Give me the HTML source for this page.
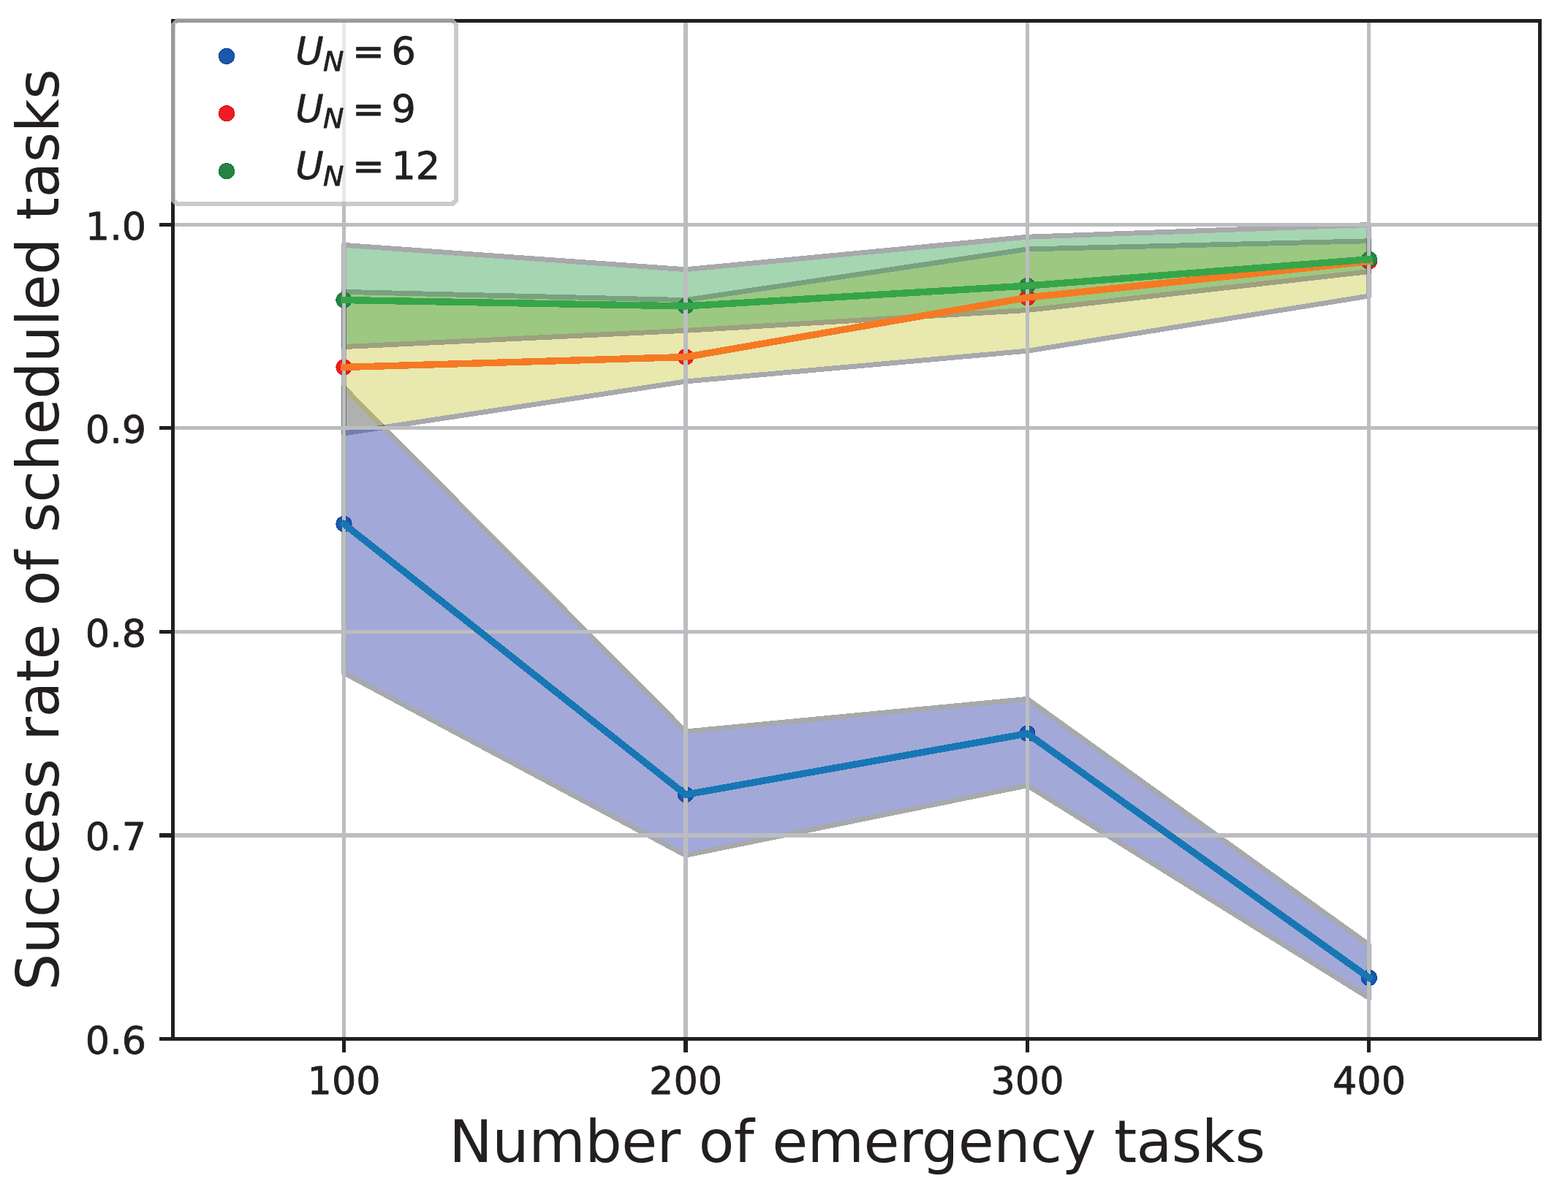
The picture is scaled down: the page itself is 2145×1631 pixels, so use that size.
<!DOCTYPE html>
<html lang="en"><head><meta charset="utf-8"><title>Success rate of scheduled tasks</title>
<style>html,body{margin:0;padding:0;background:#fff;overflow:hidden}svg{display:block}text{font-family:'DejaVu Sans','Liberation Sans',sans-serif;fill:#231f20}.s{stroke:#231f20;stroke-width:.8px;stroke-linejoin:round}</style></head><body>
<svg width="2145" height="1631" viewBox="0 0 2145 1631">
<defs>
<mask id="fb" maskUnits="userSpaceOnUse" x="0" y="0" width="2145" height="1631"><path d="M470.50 530.30 L937.97 1000.96 L1405.44 956.40 L1872.91 1292.83 L1872.91 1365.52 L1405.44 1074.77 L937.97 1170.29 L470.50 920.76 Z" stroke-width="6.9" stroke-linejoin="round" shape-rendering="crispEdges" fill="#fff" stroke="#000"/></mask>
<mask id="sb" maskUnits="userSpaceOnUse" x="0" y="0" width="2145" height="1631"><path d="M470.50 530.30 L937.97 1000.96 L1405.44 956.40 L1872.91 1292.83 L1872.91 1365.52 L1405.44 1074.77 L937.97 1170.29 L470.50 920.76 Z" stroke-width="6.9" stroke-linejoin="round" shape-rendering="crispEdges" fill="none" stroke="#fff"/></mask>
<mask id="fy" maskUnits="userSpaceOnUse" x="0" y="0" width="2145" height="1631"><path d="M470.50 399.40 L937.97 410.55 L1405.44 340.92 L1872.91 329.78 L1872.91 404.98 L1405.44 480.17 L937.97 521.94 L470.50 592.96 Z" stroke-width="6.9" stroke-linejoin="round" shape-rendering="crispEdges" fill="#fff" stroke="#000"/></mask>
<mask id="sy" maskUnits="userSpaceOnUse" x="0" y="0" width="2145" height="1631"><path d="M470.50 399.40 L937.97 410.55 L1405.44 340.92 L1872.91 329.78 L1872.91 404.98 L1405.44 480.17 L937.97 521.94 L470.50 592.96 Z" stroke-width="6.9" stroke-linejoin="round" shape-rendering="crispEdges" fill="none" stroke="#fff"/></mask>
<mask id="fg" maskUnits="userSpaceOnUse" x="0" y="0" width="2145" height="1631"><path d="M470.50 335.35 L937.97 368.77 L1405.44 324.21 L1872.91 307.50 L1872.91 371.56 L1405.44 424.47 L937.97 452.32 L470.50 474.60 Z" stroke-width="6.9" stroke-linejoin="round" shape-rendering="crispEdges" fill="#fff" stroke="#000"/></mask>
<mask id="sg" maskUnits="userSpaceOnUse" x="0" y="0" width="2145" height="1631"><path d="M470.50 335.35 L937.97 368.77 L1405.44 324.21 L1872.91 307.50 L1872.91 371.56 L1405.44 424.47 L937.97 452.32 L470.50 474.60 Z" stroke-width="6.9" stroke-linejoin="round" shape-rendering="crispEdges" fill="none" stroke="#fff"/></mask>
</defs>
<rect width="2145" height="1631" fill="#fff"/>
<g shape-rendering="crispEdges">
<g opacity="0.365"><path d="M470.50 530.30 L937.97 1000.96 L1405.44 956.40 L1872.91 1292.83 L1872.91 1365.52 L1405.44 1074.77 L937.97 1170.29 L470.50 920.76 Z" fill="rgb(2,21,150)" stroke="rgb(16,21,30)" stroke-width="6.9" stroke-linejoin="round"/></g>
<g opacity="0.365"><path d="M470.50 399.40 L937.97 410.55 L1405.44 340.92 L1872.91 329.78 L1872.91 404.98 L1405.44 480.17 L937.97 521.94 L470.50 592.96 Z" fill="rgb(194,194,38)" stroke="rgb(16,21,30)" stroke-width="6.9" stroke-linejoin="round"/></g>
<g opacity="0.365"><path d="M470.50 335.35 L937.97 368.77 L1405.44 324.21 L1872.91 307.50 L1872.91 371.56 L1405.44 424.47 L937.97 452.32 L470.50 474.60 Z" fill="rgb(13,142,43)" stroke="rgb(16,21,30)" stroke-width="6.9" stroke-linejoin="round"/></g>
<g mask="url(#fb)"><rect mask="url(#fy)" x="460" y="500" width="400" height="120" fill="rgb(175,177,175)"/></g>
<g mask="url(#sy)"><rect mask="url(#fb)" x="460" y="500" width="400" height="120" fill="rgb(116,124,180)"/></g>
<g mask="url(#sb)"><rect mask="url(#fy)" x="460" y="500" width="400" height="120" fill="rgb(174,176,128)"/></g>
<g mask="url(#fy)"><rect mask="url(#fg)" x="460" y="300" width="1420" height="200" fill="rgb(156,200,130)"/></g>
<g mask="url(#sy)"><rect mask="url(#fg)" x="460" y="300" width="1420" height="200" fill="rgb(120,161,128)"/></g>
<g mask="url(#sg)"><rect mask="url(#fy)" x="460" y="300" width="1420" height="200" fill="rgb(158,160,127)"/></g>
<circle cx="470.50" cy="716.89" r="10.5" fill="#1b58aa" stroke="#0a46a0" stroke-width="1.2"/>
<circle cx="937.97" cy="1087.30" r="10.5" fill="#1b58aa" stroke="#0a46a0" stroke-width="1.2"/>
<circle cx="1405.44" cy="1003.75" r="10.5" fill="#1b58aa" stroke="#0a46a0" stroke-width="1.2"/>
<circle cx="1872.91" cy="1337.95" r="10.5" fill="#1b58aa" stroke="#0a46a0" stroke-width="1.2"/>
<circle cx="470.50" cy="502.45" r="10.5" fill="#ed1c24" stroke="#ea0a10" stroke-width="1.2"/>
<circle cx="937.97" cy="488.52" r="10.5" fill="#ed1c24" stroke="#ea0a10" stroke-width="1.2"/>
<circle cx="1405.44" cy="407.20" r="10.5" fill="#ed1c24" stroke="#ea0a10" stroke-width="1.2"/>
<circle cx="1872.91" cy="357.63" r="10.5" fill="#ed1c24" stroke="#ea0a10" stroke-width="1.2"/>
<circle cx="470.50" cy="410.55" r="10.5" fill="#278345" stroke="#107a33" stroke-width="1.2"/>
<circle cx="937.97" cy="418.90" r="10.5" fill="#278345" stroke="#107a33" stroke-width="1.2"/>
<circle cx="1405.44" cy="391.05" r="10.5" fill="#278345" stroke="#107a33" stroke-width="1.2"/>
<circle cx="1872.91" cy="354.85" r="10.5" fill="#278345" stroke="#107a33" stroke-width="1.2"/>
<rect x="468" y="31" width="5" height="1388" fill="#bcbdc0"/>
<rect x="935" y="31" width="6" height="1388" fill="#bcbdc0"/>
<rect x="1403" y="31" width="5" height="1388" fill="#bcbdc0"/>
<rect x="1870" y="31" width="5" height="1388" fill="#bcbdc0"/>
<rect x="239" y="1140" width="1865" height="6" fill="#bcbdc0"/>
<rect x="239" y="862" width="1865" height="5" fill="#bcbdc0"/>
<rect x="239" y="583" width="1865" height="5" fill="#bcbdc0"/>
<rect x="239" y="305" width="1865" height="5" fill="#bcbdc0"/>
<path d="M470.50 716.89 L937.97 1087.30 L1405.44 1003.75 L1872.91 1337.95" fill="none" stroke="#1777b4" stroke-width="9.4" stroke-linecap="square" stroke-linejoin="round"/>
<path d="M470.50 502.45 L937.97 488.52 L1405.44 407.20 L1872.91 357.63" fill="none" stroke="#f57a23" stroke-width="9.4" stroke-linecap="square" stroke-linejoin="round"/>
<path d="M470.50 410.55 L937.97 418.90 L1405.44 391.05 L1872.91 354.85" fill="none" stroke="#36a54a" stroke-width="9.4" stroke-linecap="square" stroke-linejoin="round"/>
<rect x="468" y="1424" width="5" height="16" fill="#231f20"/>
<rect x="935" y="1424" width="6" height="16" fill="#231f20"/>
<rect x="1403" y="1424" width="5" height="16" fill="#231f20"/>
<rect x="1870" y="1424" width="5" height="16" fill="#231f20"/>
<rect x="218" y="1419" width="16" height="5" fill="#231f20"/>
<rect x="218" y="1140" width="16" height="6" fill="#231f20"/>
<rect x="218" y="862" width="16" height="5" fill="#231f20"/>
<rect x="218" y="583" width="16" height="5" fill="#231f20"/>
<rect x="218" y="305" width="16" height="5" fill="#231f20"/>
<rect x="234" y="26" width="5" height="1398" fill="#231f20"/>
<rect x="2104" y="26" width="5" height="1398" fill="#231f20"/>
<rect x="234" y="26" width="1875" height="5" fill="#231f20"/>
<rect x="234" y="1419" width="1875" height="5" fill="#231f20"/>
</g>
<g shape-rendering="crispEdges">
<path d="M243.27 31.15 L617.48 31.15 L620.95 34.62 L620.95 272.73 L617.48 276.20 L243.27 276.20 L239.80 272.73 L239.80 34.62 Z" fill="#fff" fill-opacity="0.63"/>
<path d="M242.05 28.20 L618.70 28.20 L623.90 33.40 L623.90 273.95 L618.70 279.15 L242.05 279.15 L236.85 273.95 L236.85 33.40 Z" fill="none" stroke="#bcbdc0" stroke-opacity="0.78" stroke-width="5.9" stroke-linejoin="miter"/>
</g>
<circle cx="310" cy="76.90" r="10.5" fill="#1b58aa" stroke="#0a46a0" stroke-width="1.2" shape-rendering="crispEdges"/>
<text class="s" y="88.20" font-size="52.4"><tspan x="404.30" font-style="italic">U</tspan><tspan x="442.10" dy="8.60" font-size="38.00" font-style="italic">N</tspan><tspan x="481.90" dy="-8.60">=</tspan><tspan x="535.50">6</tspan></text>
<circle cx="310" cy="155.20" r="10.5" fill="#ed1c24" stroke="#ea0a10" stroke-width="1.2" shape-rendering="crispEdges"/>
<text class="s" y="166.80" font-size="52.4"><tspan x="404.30" font-style="italic">U</tspan><tspan x="442.10" dy="8.60" font-size="38.00" font-style="italic">N</tspan><tspan x="481.90" dy="-8.60">=</tspan><tspan x="535.50">9</tspan></text>
<circle cx="310" cy="234.10" r="10.5" fill="#278345" stroke="#107a33" stroke-width="1.2" shape-rendering="crispEdges"/>
<text class="s" y="245.40" font-size="52.4"><tspan x="404.30" font-style="italic">U</tspan><tspan x="442.10" dy="8.60" font-size="38.00" font-style="italic">N</tspan><tspan x="481.90" dy="-8.60">=</tspan><tspan x="535.50">12</tspan></text>
<text class="s" x="470.60" y="1497.4" font-size="52.4" text-anchor="middle">100</text>
<text class="s" x="938.07" y="1497.4" font-size="52.4" text-anchor="middle">200</text>
<text class="s" x="1405.54" y="1497.4" font-size="52.4" text-anchor="middle">300</text>
<text class="s" x="1873.01" y="1497.4" font-size="52.4" text-anchor="middle">400</text>
<text class="s" x="200.2" y="1441.50" font-size="52.4" text-anchor="end">0.6</text>
<text class="s" x="200.2" y="1162.50" font-size="52.4" text-anchor="end">0.7</text>
<text class="s" x="200.2" y="884.50" font-size="52.4" text-anchor="end">0.8</text>
<text class="s" x="200.2" y="605.50" font-size="52.4" text-anchor="end">0.9</text>
<text class="s" x="200.2" y="327.50" font-size="52.4" text-anchor="end">1.0</text>
<text x="1172.3" y="1590.1" font-size="79.5" letter-spacing="-0.46" text-anchor="middle">Number of emergency tasks</text>
<text transform="translate(79.7 725) rotate(-90)" font-size="79.5" letter-spacing="-0.46" text-anchor="middle">Success rate of scheduled tasks</text>
</svg></body></html>
